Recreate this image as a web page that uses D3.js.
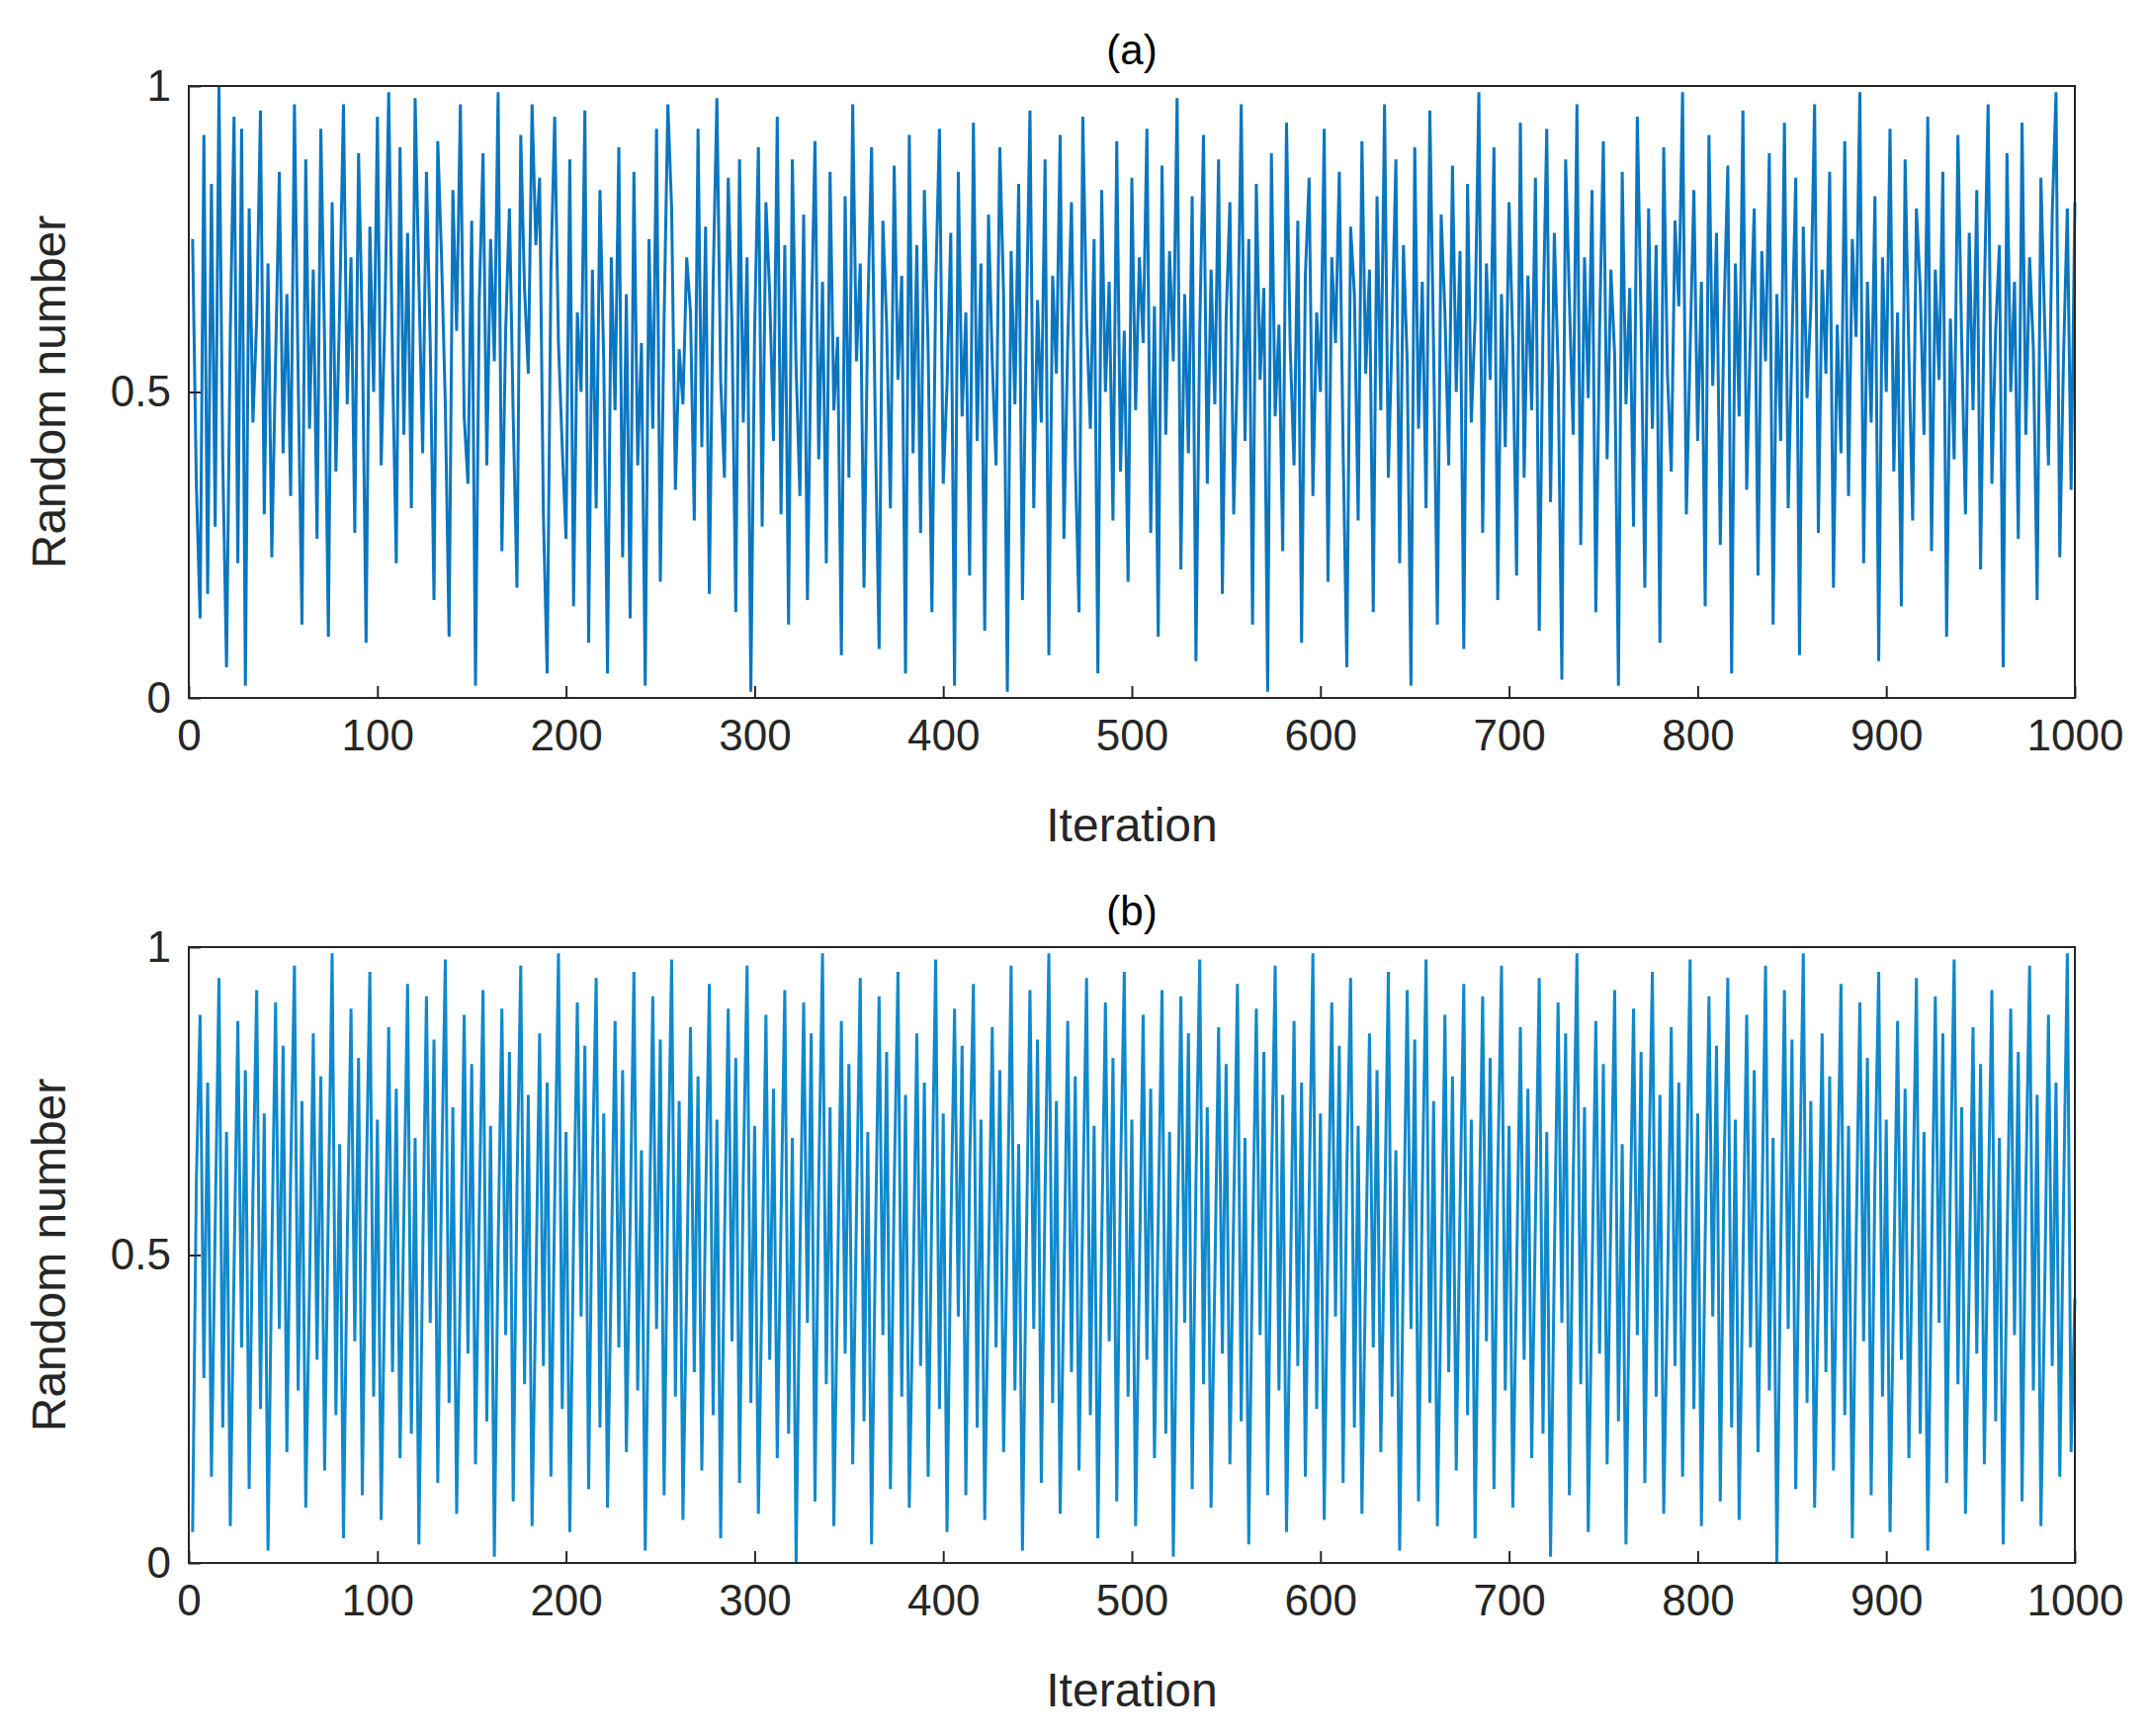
<!DOCTYPE html>
<html><head><meta charset="utf-8">
<script src="https://cdn.jsdelivr.net/npm/d3@7"></script>
<style>body{margin:0;background:#fff}text{font-family:"Liberation Sans",Arial,sans-serif}</style>
</head><body><svg id="c" width="2175" height="1756"></svg>
<script>
const xTicks=[0,100,200,300,400,500,600,700,800,900,1000];
const yTicks=[0,0.5,1];
const titles=["(a)","(b)"];
const seriesA=[.75,.35,.13,.92,.17,.84,.28,1,.39,.05,.6,.95,.22,.93,.02,.8,.45,.62,.96,.3,.71,.23,.55,.86,.4,
.66,.33,.97,.52,.12,.88,.44,.7,.26,.93,.58,.1,.81,.37,.64,.97,.48,.72,.27,.89,.6,.09,.77,.5,.95,
.38,.63,.99,.55,.22,.9,.43,.76,.31,.98,.68,.4,.86,.58,.16,.91,.72,.48,.1,.83,.6,.97,.46,.35,.78,
.02,.65,.89,.38,.75,.55,.99,.24,.6,.8,.46,.18,.92,.67,.53,.97,.74,.85,.3,.04,.7,.95,.58,.41,.26,
.88,.15,.63,.5,.96,.09,.7,.31,.83,.55,.04,.72,.47,.9,.23,.66,.13,.86,.38,.58,.02,.75,.44,.93,.19,
.62,.97,.8,.34,.57,.48,.72,.63,.29,.93,.41,.77,.17,.68,.98,.52,.36,.85,.61,.14,.88,.45,.72,.01,.6,
.9,.28,.81,.66,.42,.95,.3,.74,.12,.88,.54,.33,.79,.16,.6,.91,.39,.68,.22,.86,.47,.59,.07,.82,.36,
.97,.55,.71,.18,.63,.9,.44,.08,.78,.61,.31,.87,.52,.69,.04,.92,.4,.74,.27,.83,.57,.14,.67,.93,.35,
.51,.76,.02,.86,.46,.63,.2,.94,.42,.71,.11,.79,.55,.38,.9,.66,.01,.73,.48,.84,.16,.6,.96,.31,.65,
.45,.88,.07,.69,.53,.92,.26,.58,.81,.39,.14,.95,.62,.44,.75,.04,.83,.5,.68,.29,.91,.37,.6,.19,.85,
.47,.72,.58,.93,.27,.64,.1,.87,.43,.73,.55,.98,.21,.66,.4,.82,.06,.6,.92,.35,.7,.48,.88,.17,.62,
.81,.3,.55,.97,.42,.75,.12,.84,.52,.67,.01,.89,.46,.61,.24,.94,.57,.38,.78,.09,.69,.85,.33,.63,.5,
.93,.19,.72,.58,.86,.41,.05,.77,.66,.29,.91,.53,.7,.14,.82,.47,.97,.36,.6,.88,.22,.74,.55,.02,.9,
.44,.68,.31,.96,.57,.12,.79,.63,.38,.87,.5,.73,.08,.84,.45,.62,.99,.27,.71,.52,.9,.16,.66,.41,.81,
.58,.2,.94,.36,.69,.47,.85,.11,.61,.93,.32,.76,.54,.03,.88,.65,.43,.97,.25,.72,.49,.83,.14,.6,.91,
.39,.7,.56,.02,.86,.48,.67,.28,.95,.62,.18,.8,.44,.74,.09,.9,.53,.37,.78,.64,.99,.3,.57,.83,.42,
.68,.15,.92,.51,.76,.25,.63,.87,.04,.71,.46,.96,.34,.6,.8,.2,.73,.55,.89,.12,.66,.42,.94,.31,.58,
.85,.07,.77,.49,.64,.97,.27,.7,.53,.86,.18,.61,.4,.91,.33,.75,.59,.99,.22,.68,.45,.82,.06,.72,.5,
.93,.37,.63,.15,.88,.56,.29,.8,.67,.43,.95,.24,.7,.52,.86,.1,.62,.39,.92,.58,.3,.76,.47,.83,.21,
.66,.97,.35,.6,.74,.05,.89,.5,.68,.26,.94,.43,.72,.57,.16,.85,.61,.38,.79,.99,.23,.56,.8,.34,.81];
const seriesB=[.05,.62,.89,.3,.78,.14,.55,.95,.22,.7,.06,.48,.88,.35,.8,.12,.6,.93,.25,.73,.02,.5,.91,.38,.84,
.18,.63,.97,.28,.75,.09,.45,.86,.33,.79,.15,.58,.99,.24,.68,.04,.52,.9,.36,.82,.11,.6,.96,.27,.72,
.07,.47,.87,.31,.77,.17,.56,.94,.21,.69,.03,.49,.92,.39,.85,.13,.62,.98,.26,.74,.08,.46,.89,.34,.81,
.16,.57,.93,.23,.71,.01,.51,.9,.37,.83,.1,.61,.97,.29,.76,.06,.44,.86,.32,.78,.14,.59,.99,.25,.7,
.05,.53,.91,.4,.84,.12,.64,.95,.22,.73,.09,.48,.88,.35,.8,.18,.55,.96,.28,.67,.02,.5,.92,.38,.85,
.11,.6,.98,.27,.75,.07,.45,.87,.31,.79,.15,.58,.94,.24,.72,.04,.52,.9,.36,.82,.13,.63,.97,.26,.71,
.08,.47,.89,.33,.77,.17,.56,.93,.21,.69,0,.49,.91,.39,.86,.1,.62,.99,.29,.74,.06,.46,.88,.34,.81,
.16,.57,.95,.23,.7,.03,.51,.92,.37,.83,.12,.61,.96,.27,.76,.09,.44,.86,.32,.78,.14,.59,.98,.25,.73,
.05,.53,.9,.4,.84,.11,.64,.94,.22,.72,.07,.48,.87,.35,.8,.18,.55,.97,.28,.68,.02,.5,.93,.38,.85,
.13,.6,.99,.26,.75,.08,.45,.88,.31,.79,.15,.58,.95,.24,.71,.04,.52,.91,.36,.82,.1,.63,.96,.27,.72,
.06,.47,.89,.33,.77,.17,.56,.93,.21,.7,.01,.49,.92,.39,.86,.12,.62,.98,.29,.74,.09,.46,.87,.34,.81,
.16,.57,.94,.23,.69,.03,.51,.9,.37,.83,.11,.61,.97,.28,.76,.05,.44,.88,.32,.78,.14,.59,.99,.25,.73,
.07,.53,.91,.4,.84,.13,.64,.95,.22,.71,.08,.48,.86,.35,.8,.18,.55,.96,.27,.67,.02,.5,.93,.38,.85,
.1,.6,.98,.26,.75,.06,.45,.89,.31,.79,.15,.58,.94,.24,.72,.04,.52,.92,.36,.82,.12,.63,.97,.28,.71,
.09,.47,.87,.33,.77,.17,.56,.95,.21,.7,.01,.49,.91,.39,.86,.11,.62,.99,.29,.74,.05,.46,.88,.34,.81,
.16,.57,.93,.23,.68,.03,.51,.9,.37,.83,.13,.61,.96,.27,.76,.08,.44,.87,.32,.78,.14,.59,.98,.25,.73,
.06,.53,.92,.4,.84,.1,.64,.95,.22,.72,.07,.48,.89,.35,.8,.18,.55,.97,.28,.69,0,.5,.93,.38,.85,
.12,.6,.99,.26,.75,.09,.45,.86,.31,.79,.15,.58,.94,.24,.71,.04,.52,.91,.36,.82,.11,.63,.96,.27,.72,
.05,.47,.88,.33,.77,.17,.56,.95,.21,.7,.02,.49,.92,.39,.86,.13,.62,.98,.29,.74,.08,.46,.87,.34,.81,
.16,.57,.93,.23,.69,.03,.51,.9,.37,.83,.1,.61,.97,.28,.76,.06,.44,.89,.32,.78,.14,.59,.99,.18,.43];
const svg=d3.select("#c");
const panels=[{data:seriesA,top:87,bottom:706,title:titles[0],color:"#0a76c0"},{data:seriesB,top:958,bottom:1581,title:titles[1],color:"#1089cc"}];
panels.forEach(p=>{
  const x=d3.scaleLinear().domain([0,1000]).range([191,2099]);
  const y=d3.scaleLinear().domain([0,1]).range([p.bottom,p.top]);
  const g=svg.append("g");
  const pts=p.data.map((v,i)=>[(i+1)*2,v]);
  g.append("path").datum(pts).attr("fill","none").attr("stroke",p.color).attr("stroke-width",3)
   .attr("d",d3.line().x(d=>x(d[0])).y(d=>y(d[1])));
  g.append("rect").attr("x",191).attr("y",p.top).attr("width",1908).attr("height",p.bottom-p.top)
   .attr("fill","none").attr("stroke","#262626").attr("stroke-width",2);
  const ax=g.append("g").attr("transform",`translate(0,${p.bottom})`)
   .call(d3.axisBottom(x).tickValues(xTicks).tickSize(-12).tickPadding(22).tickFormat(d3.format("d")));
  const ay=g.append("g").attr("transform","translate(191,0)")
   .call(d3.axisLeft(y).tickValues(yTicks).tickSize(-12).tickPadding(18).tickFormat(d=>String(d)));
  [ax,ay].forEach(a=>{a.select(".domain").remove();a.selectAll("line").attr("stroke","#262626").attr("stroke-width",2);
    a.selectAll("text").attr("font-size",44).attr("fill","#262626");});
  g.append("text").attr("x",1145).attr("y",p.top-22).attr("text-anchor","middle").attr("font-size",42).attr("fill","#000").text(p.title);
  g.append("text").attr("x",1145).attr("y",p.bottom+145).attr("text-anchor","middle").attr("font-size",48).attr("fill","#262626").text("Iteration");
  g.append("text").attr("transform",`translate(66,${(p.top+p.bottom)/2}) rotate(-90)`).attr("text-anchor","middle").attr("font-size",48).attr("fill","#262626").text("Random number");
});
</script></body></html>
